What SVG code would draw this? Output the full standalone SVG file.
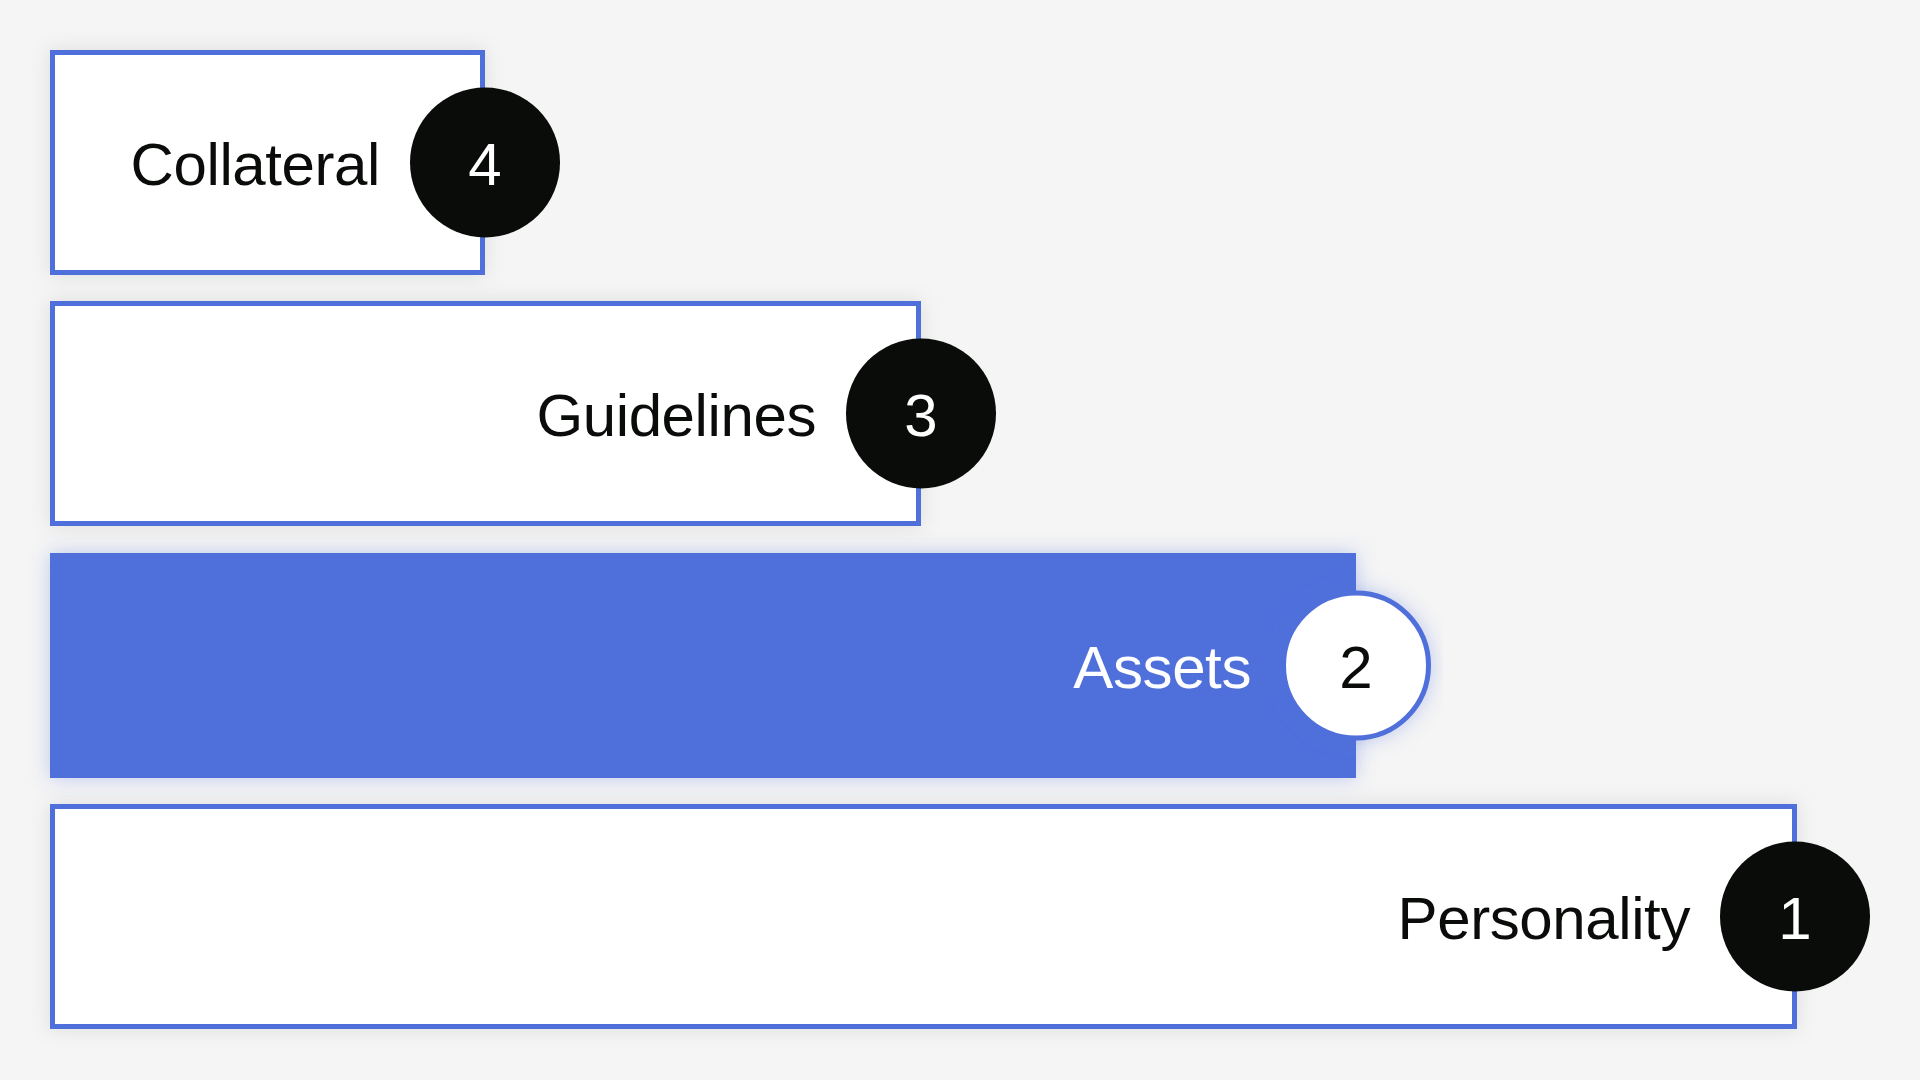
<svg xmlns="http://www.w3.org/2000/svg" width="1920" height="1080" viewBox="0 0 1920 1080">
  <defs>
    <filter id="shGray" x="-10%" y="-20%" width="120%" height="140%">
      <feDropShadow dx="0" dy="0" stdDeviation="10" flood-color="#000000" flood-opacity="0.10"/>
    </filter>
    <filter id="shBlue" x="-10%" y="-20%" width="120%" height="140%">
      <feDropShadow dx="0" dy="0" stdDeviation="10" flood-color="#4f6fdb" flood-opacity="0.35"/>
    </filter>
    <style>
      .box { fill: #ffffff; stroke: #4f6fdb; stroke-width: 5; }
      .boxActive { fill: #4f6fdb; }
      .badge { fill: #0a0c0a; }
      .badgeActive { fill: #ffffff; stroke: #4f6fdb; stroke-width: 5; }
      .label { font-family: "Liberation Sans", Arial, sans-serif; font-size: 60px; fill: #0a0c0a; text-anchor: end; letter-spacing: -0.4px; }
      .labelActive { fill: #ffffff; }
      .num { font-family: "Liberation Sans", Arial, sans-serif; font-size: 60px; fill: #ffffff; text-anchor: middle; }
      .numActive { fill: #0a0c0a; }
    </style>
  </defs>
  <rect x="0" y="0" width="1920" height="1080" fill="#f5f5f5"/>

  <g id="connectors"></g>

  <g id="node-collateral">
    <rect class="box" x="52.5" y="52.5" width="430" height="220" filter="url(#shGray)"/>
    <circle class="badge" cx="485" cy="162.5" r="75"/>
    <text class="label" x="380" y="184.5">Collateral</text>
    <text class="num" x="485" y="184.5">4</text>
  </g>

  <g id="node-guidelines">
    <rect class="box" x="52.5" y="303.5" width="866" height="220" filter="url(#shGray)"/>
    <circle class="badge" cx="921" cy="413.5" r="75"/>
    <text class="label" x="816" y="435.5">Guidelines</text>
    <text class="num" x="921" y="435.5">3</text>
  </g>

  <g id="node-assets">
    <rect class="boxActive" x="50" y="553" width="1306" height="225" filter="url(#shBlue)"/>
    <circle class="badgeActive" cx="1356" cy="665.5" r="72.5" filter="url(#shBlue)"/>
    <text class="label labelActive" x="1251" y="687.5">Assets</text>
    <text class="num numActive" x="1356" y="687.5">2</text>
  </g>

  <g id="node-personality">
    <rect class="box" x="52.5" y="806.5" width="1742" height="220" filter="url(#shGray)"/>
    <circle class="badge" cx="1795" cy="916.5" r="75"/>
    <text class="label" x="1690" y="938.5">Personality</text>
    <text class="num" x="1795" y="938.5">1</text>
  </g>
</svg>
